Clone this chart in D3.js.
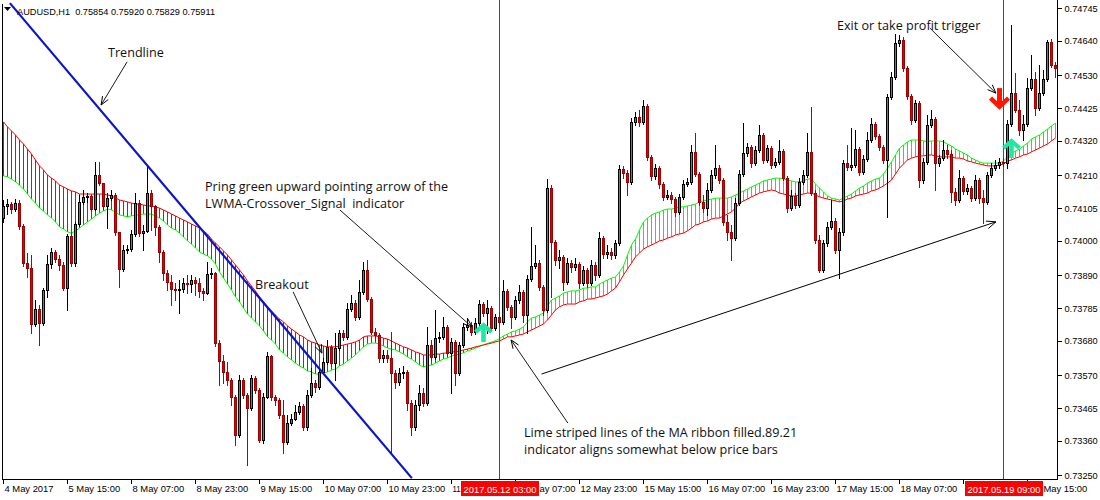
<!DOCTYPE html>
<html><head><meta charset="utf-8">
<script src="https://cdn.jsdelivr.net/npm/d3@7"></script>
<style>
html,body{margin:0;padding:0;background:#fff;}
svg{display:block;}
text{white-space:pre;}
</style></head><body>
<svg id="c" width="1100" height="500"></svg>
<script>
// ---------- DATA (AUDUSD H1, bar 0 = 4 May 2017 23:00) ----------
const firstOpen = 0.74073;
const close = [
0.74112,0.74118,0.74102,0.74121,0.74048,0.73929,0.73913,0.73734,0.73782,0.73737,
0.73843,0.73926,0.73965,0.73942,0.73923,0.73849,0.74016,0.73929,0.74054,0.74125,
0.74141,0.74144,0.74102,0.74211,0.74185,0.74112,0.74137,0.74147,0.74029,0.73910,
0.73971,0.73974,0.74022,0.74121,0.74025,0.74032,0.74153,0.74112,0.74045,0.73965,
0.73897,0.73869,0.73846,0.73843,0.73846,0.73865,0.73862,0.73875,0.73865,0.73840,
0.73833,0.73894,0.73897,0.73673,0.73616,0.73581,0.73555,0.73501,0.73379,0.73555,
0.73507,0.73465,0.73561,0.73523,0.73363,0.73501,0.73632,0.73501,0.73491,0.73443,
0.73357,0.73417,0.73430,0.73453,0.73472,0.73405,0.73507,0.73545,0.73533,0.73581,
0.73613,0.73661,0.73609,0.73657,0.73705,0.73693,0.73782,0.73801,0.73757,0.73837,
0.73907,0.73814,0.73709,0.73699,0.73625,0.73635,0.73625,0.73577,0.73549,0.73577,
0.73581,0.73481,0.73405,0.73475,0.73513,0.73481,0.73667,0.73629,0.73689,0.73693,
0.73725,0.73641,0.73677,0.73577,0.73667,0.73725,0.73731,0.73709,0.73737,0.73798,
0.73769,0.73785,0.73721,0.73757,0.73741,0.73840,0.73789,0.73757,0.73811,0.73837,
0.73763,0.73878,0.73920,0.73929,0.73853,0.73779,0.74169,0.73997,0.73939,0.73949,
0.73869,0.73929,0.73917,0.73926,0.73865,0.73907,0.73865,0.73923,0.73891,0.74009,
0.73958,0.73965,0.73955,0.73993,0.74230,0.74217,0.74189,0.74381,0.74397,0.74381,
0.74432,0.74269,0.74208,0.74233,0.74182,0.74141,0.74147,0.74134,0.74093,0.74141,
0.74182,0.74189,0.74285,0.74214,0.74125,0.74105,0.74163,0.74211,0.74233,0.74195,
0.74061,0.74029,0.74009,0.74121,0.74214,0.74281,0.74301,0.74249,0.74291,0.74339,
0.74259,0.74297,0.74243,0.74253,0.74288,0.74201,0.74105,0.74144,0.74115,0.74189,
0.74211,0.74285,0.74153,0.74003,0.73907,0.73993,0.74045,0.74064,0.73971,0.74029,
0.74249,0.74237,0.74243,0.74294,0.74221,0.74262,0.74323,0.74374,0.74336,0.74301,
0.74259,0.74461,0.74525,0.74633,0.74643,0.74553,0.74464,0.74387,0.74441,0.74195,
0.74253,0.74371,0.74390,0.74249,0.74265,0.74291,0.74278,0.74157,0.74131,0.74201,
0.74160,0.74169,0.74137,0.74195,0.74137,0.74125,0.74211,0.74233,0.74243,0.74253,
0.74249,0.74374,0.74473,0.74419,0.74355,0.74374,0.74489,0.74518,0.74425,0.74473,
0.74518,0.74637,0.74563,0.74553];
const high = [
0.74131,0.74134,0.74125,0.74134,0.74131,0.74054,0.73961,0.73955,0.73811,0.73795,
0.73849,0.73955,0.73977,0.73971,0.73955,0.73933,0.74022,0.74029,0.74061,0.74147,
0.74163,0.74153,0.74147,0.74253,0.74253,0.74185,0.74153,0.74163,0.74153,0.74029,
0.73987,0.73987,0.74035,0.74153,0.74131,0.74051,0.74237,0.74163,0.74115,0.74051,
0.73971,0.73907,0.73891,0.73865,0.73875,0.73881,0.73891,0.73891,0.73885,0.73881,
0.73849,0.73933,0.73913,0.73901,0.73683,0.73635,0.73613,0.73561,0.73507,0.73571,
0.73561,0.73513,0.73571,0.73568,0.73529,0.73513,0.73645,0.73635,0.73507,0.73497,
0.73491,0.73443,0.73446,0.73475,0.73485,0.73478,0.73523,0.73593,0.73555,0.73593,
0.73625,0.73683,0.73667,0.73705,0.73715,0.73715,0.73801,0.73827,0.73811,0.73875,
0.73933,0.73939,0.73821,0.73721,0.73705,0.73651,0.73651,0.73709,0.73587,0.73593,
0.73600,0.73587,0.73491,0.73491,0.73539,0.73529,0.73725,0.73683,0.73779,0.73709,
0.73757,0.73731,0.73689,0.73683,0.73677,0.73737,0.73753,0.73741,0.73753,0.73811,
0.73805,0.73811,0.73792,0.73766,0.73773,0.73875,0.73846,0.73795,0.73824,0.73859,
0.73843,0.73891,0.74045,0.73987,0.73939,0.73859,0.74198,0.74179,0.74003,0.73971,
0.73955,0.73945,0.73939,0.73945,0.73933,0.73920,0.73913,0.73939,0.73933,0.74029,
0.74016,0.73987,0.73977,0.74003,0.74243,0.74240,0.74227,0.74393,0.74413,0.74419,
0.74451,0.74438,0.74275,0.74246,0.74240,0.74189,0.74163,0.74157,0.74141,0.74150,
0.74195,0.74201,0.74307,0.74345,0.74221,0.74147,0.74185,0.74227,0.74307,0.74243,
0.74201,0.74083,0.74051,0.74137,0.74227,0.74377,0.74313,0.74307,0.74304,0.74371,
0.74345,0.74307,0.74304,0.74265,0.74323,0.74294,0.74208,0.74163,0.74153,0.74201,
0.74227,0.74345,0.74429,0.74163,0.74019,0.74003,0.74061,0.74131,0.74073,0.74041,
0.74259,0.74307,0.74361,0.74355,0.74301,0.74275,0.74349,0.74393,0.74381,0.74342,
0.74307,0.74470,0.74541,0.74662,0.74659,0.74653,0.74560,0.74470,0.74451,0.74448,
0.74265,0.74403,0.74419,0.74397,0.74275,0.74323,0.74307,0.74291,0.74169,0.74227,
0.74208,0.74182,0.74176,0.74211,0.74201,0.74163,0.74221,0.74249,0.74259,0.74265,
0.74265,0.74387,0.74691,0.74537,0.74451,0.74403,0.74521,0.74595,0.74541,0.74563,
0.74547,0.74643,0.74646,0.74573];
const low = [
0.74061,0.74086,0.74089,0.74096,0.74038,0.73920,0.73885,0.73705,0.73728,0.73667,
0.73731,0.73821,0.73913,0.73933,0.73907,0.73843,0.73779,0.73920,0.73920,0.74048,
0.74118,0.74125,0.74096,0.74099,0.74179,0.74102,0.74041,0.74131,0.74019,0.73853,
0.73904,0.73961,0.73968,0.74016,0.74016,0.73971,0.74029,0.74035,0.74019,0.73933,
0.73875,0.73843,0.73795,0.73811,0.73769,0.73837,0.73833,0.73837,0.73827,0.73821,
0.73811,0.73830,0.73881,0.73664,0.73539,0.73545,0.73539,0.73475,0.73347,0.73373,
0.73497,0.73283,0.73459,0.73513,0.73357,0.73353,0.73497,0.73491,0.73475,0.73433,
0.73321,0.73350,0.73411,0.73427,0.73446,0.73395,0.73395,0.73501,0.73517,0.73526,
0.73574,0.73606,0.73600,0.73555,0.73651,0.73683,0.73686,0.73776,0.73747,0.73750,
0.73830,0.73808,0.73702,0.73683,0.73613,0.73613,0.73613,0.73321,0.73529,0.73539,
0.73561,0.73459,0.73379,0.73395,0.73459,0.73472,0.73475,0.73619,0.73622,0.73677,
0.73686,0.73632,0.73513,0.73539,0.73571,0.73661,0.73715,0.73699,0.73702,0.73731,
0.73760,0.73705,0.73715,0.73715,0.73728,0.73734,0.73779,0.73721,0.73750,0.73801,
0.73741,0.73705,0.73872,0.73913,0.73843,0.73763,0.73773,0.73821,0.73923,0.73913,
0.73843,0.73862,0.73901,0.73907,0.73849,0.73859,0.73853,0.73859,0.73875,0.73885,
0.73945,0.73945,0.73942,0.73945,0.73987,0.74201,0.74147,0.74182,0.74371,0.74368,
0.74374,0.74259,0.74195,0.74198,0.74169,0.74131,0.74134,0.74121,0.74080,0.74086,
0.74134,0.74176,0.74182,0.74208,0.74115,0.74093,0.74083,0.74157,0.74201,0.74185,
0.74051,0.74003,0.73939,0.74003,0.74115,0.74208,0.74272,0.74237,0.74243,0.74285,
0.74249,0.74253,0.74233,0.74237,0.74246,0.74195,0.74093,0.74099,0.74105,0.74109,
0.74182,0.74205,0.74147,0.73993,0.73901,0.73901,0.73984,0.74038,0.73961,0.73881,
0.74019,0.74227,0.74227,0.74237,0.74211,0.74214,0.74256,0.74317,0.74326,0.74291,
0.74249,0.74077,0.74454,0.74518,0.74624,0.74544,0.74454,0.74374,0.74381,0.74173,
0.74185,0.74246,0.74365,0.74163,0.74240,0.74259,0.74265,0.74125,0.74115,0.74125,
0.74150,0.74150,0.74128,0.74131,0.74121,0.74057,0.74118,0.74205,0.74227,0.74233,
0.74240,0.74233,0.74368,0.74413,0.74339,0.74323,0.74368,0.74483,0.74403,0.74419,
0.74467,0.74512,0.74557,0.74525];
// MA ribbon (89 = slow, red; 21 = fast, lime)
const maSlow = [
0.74381,0.74365,0.74352,0.74339,0.74323,0.74310,0.74294,0.74278,0.74259,0.74240,
0.74227,0.74211,0.74201,0.74192,0.74179,0.74173,0.74166,0.74160,0.74157,0.74150,
0.74150,0.74150,0.74150,0.74150,0.74150,0.74150,0.74147,0.74144,0.74137,0.74131,
0.74128,0.74125,0.74121,0.74118,0.74118,0.74115,0.74112,0.74112,0.74109,0.74105,
0.74099,0.74093,0.74086,0.74080,0.74073,0.74067,0.74061,0.74054,0.74048,0.74041,
0.74032,0.74022,0.74006,0.73993,0.73981,0.73968,0.73955,0.73939,0.73923,0.73907,
0.73891,0.73872,0.73856,0.73840,0.73821,0.73805,0.73789,0.73776,0.73763,0.73750,
0.73741,0.73728,0.73718,0.73709,0.73699,0.73693,0.73683,0.73677,0.73673,0.73667,
0.73664,0.73661,0.73661,0.73661,0.73664,0.73667,0.73670,0.73673,0.73677,0.73683,
0.73693,0.73696,0.73696,0.73696,0.73693,0.73689,0.73686,0.73680,0.73673,0.73667,
0.73661,0.73657,0.73651,0.73645,0.73641,0.73635,0.73635,0.73635,0.73638,0.73638,
0.73641,0.73641,0.73645,0.73645,0.73648,0.73651,0.73654,0.73657,0.73661,0.73664,
0.73667,0.73670,0.73673,0.73677,0.73680,0.73686,0.73693,0.73693,0.73696,0.73699,
0.73702,0.73709,0.73715,0.73721,0.73728,0.73734,0.73747,0.73763,0.73779,0.73789,
0.73795,0.73798,0.73798,0.73798,0.73805,0.73808,0.73814,0.73814,0.73817,0.73821,
0.73824,0.73830,0.73840,0.73849,0.73869,0.73891,0.73910,0.73929,0.73949,0.73961,
0.73974,0.73981,0.73987,0.73993,0.74000,0.74003,0.74009,0.74013,0.74019,0.74022,
0.74025,0.74032,0.74041,0.74051,0.74054,0.74061,0.74064,0.74070,0.74073,0.74073,
0.74080,0.74086,0.74093,0.74105,0.74121,0.74128,0.74134,0.74141,0.74147,0.74153,
0.74157,0.74160,0.74163,0.74160,0.74153,0.74150,0.74147,0.74144,0.74144,0.74147,
0.74150,0.74153,0.74153,0.74147,0.74141,0.74137,0.74134,0.74131,0.74128,0.74125,
0.74128,0.74134,0.74137,0.74144,0.74147,0.74150,0.74153,0.74160,0.74163,0.74169,
0.74176,0.74185,0.74195,0.74214,0.74233,0.74246,0.74259,0.74265,0.74269,0.74272,
0.74272,0.74275,0.74275,0.74272,0.74269,0.74269,0.74269,0.74269,0.74265,0.74265,
0.74262,0.74256,0.74253,0.74249,0.74246,0.74243,0.74240,0.74240,0.74240,0.74243,
0.74246,0.74256,0.74259,0.74265,0.74269,0.74275,0.74278,0.74285,0.74291,0.74297,
0.74304,0.74310,0.74320,0.74329];
const maFast = [
0.74208,0.74205,0.74198,0.74189,0.74179,0.74166,0.74150,0.74134,0.74121,0.74105,
0.74096,0.74083,0.74073,0.74061,0.74045,0.74038,0.74029,0.74025,0.74032,0.74041,
0.74051,0.74061,0.74070,0.74080,0.74089,0.74096,0.74102,0.74099,0.74093,0.74083,
0.74080,0.74077,0.74080,0.74083,0.74083,0.74086,0.74086,0.74086,0.74080,0.74073,
0.74064,0.74051,0.74041,0.74035,0.74025,0.74013,0.74000,0.73990,0.73977,0.73965,
0.73958,0.73952,0.73942,0.73926,0.73901,0.73881,0.73862,0.73843,0.73821,0.73805,
0.73785,0.73766,0.73753,0.73741,0.73728,0.73712,0.73693,0.73683,0.73670,0.73651,
0.73641,0.73629,0.73619,0.73609,0.73600,0.73593,0.73584,0.73581,0.73574,0.73574,
0.73577,0.73581,0.73587,0.73590,0.73600,0.73606,0.73616,0.73625,0.73635,0.73648,
0.73661,0.73670,0.73673,0.73673,0.73670,0.73664,0.73657,0.73654,0.73651,0.73645,
0.73638,0.73629,0.73622,0.73613,0.73603,0.73597,0.73600,0.73603,0.73609,0.73616,
0.73622,0.73625,0.73632,0.73635,0.73638,0.73642,0.73648,0.73652,0.73657,0.73662,
0.73668,0.73672,0.73676,0.73681,0.73687,0.73696,0.73702,0.73709,0.73712,0.73718,
0.73725,0.73741,0.73753,0.73757,0.73763,0.73769,0.73792,0.73811,0.73817,0.73824,
0.73833,0.73837,0.73840,0.73840,0.73843,0.73849,0.73849,0.73853,0.73853,0.73862,
0.73869,0.73875,0.73881,0.73885,0.73901,0.73920,0.73955,0.73987,0.74006,0.74035,
0.74061,0.74073,0.74083,0.74089,0.74093,0.74099,0.74102,0.74102,0.74105,0.74109,
0.74109,0.74112,0.74115,0.74118,0.74125,0.74128,0.74131,0.74134,0.74137,0.74137,
0.74137,0.74137,0.74141,0.74147,0.74153,0.74160,0.74166,0.74173,0.74179,0.74185,
0.74192,0.74195,0.74198,0.74201,0.74201,0.74198,0.74195,0.74192,0.74189,0.74189,
0.74192,0.74198,0.74198,0.74182,0.74169,0.74157,0.74144,0.74137,0.74134,0.74131,
0.74137,0.74144,0.74150,0.74160,0.74169,0.74176,0.74185,0.74192,0.74198,0.74201,
0.74214,0.74233,0.74253,0.74275,0.74297,0.74307,0.74317,0.74323,0.74323,0.74323,
0.74320,0.74317,0.74320,0.74320,0.74320,0.74317,0.74310,0.74304,0.74294,0.74288,
0.74281,0.74275,0.74265,0.74259,0.74253,0.74249,0.74249,0.74249,0.74249,0.74249,
0.74256,0.74269,0.74278,0.74288,0.74294,0.74304,0.74313,0.74326,0.74333,0.74339,
0.74349,0.74358,0.74368,0.74377];

const priceTicks = [0.74745,0.74640,0.74530,0.74425,0.74320,0.74210,0.74105,0.74000,0.73890,0.73785,0.73680,0.73570,0.73465,0.73360,0.73250];
const timeLabels = ["4 May 2017","5 May 15:00","8 May 07:00","8 May 23:00","9 May 15:00","10 May 07:00","10 May 23:00","11 May 15:00","12 May 07:00","12 May 23:00","15 May 15:00","16 May 07:00","16 May 23:00","17 May 15:00","18 May 07:00","18 May 23:00","19 May 15:00"];
const timeLabelBars = [0,16,32,48,64,80,96,112,128,144,160,176,192,208,224,240,256];
const markerLabels = ["2017.05.12 03:00","2017.05.19 09:00"];
const markerBars = [124,250];
const signalTypes = ["up","up","down"];
const signalBars = [120,252,249];
const signalPrices = [0.73734,0.74323,0.74425];
const trendBars = [1.6,102.1];
const trendPrices = [0.74761,0.73241];
const supportBars = [134.5,248.1];
const supportPrices = [0.73574,0.74061];
const headerText = "AUDUSD,H1  0.75854 0.75920 0.75829 0.75911";
const calloutTexts = [
  ["Trendline"],
  ["Pring green upward pointing arrow of the","LWMA-Crossover_Signal  indicator"],
  ["Breakout"],
  ["Lime striped lines of the MA ribbon filled.89.21","indicator aligns somewhat below price bars"],
  ["Exit or take profit trigger"]
];
const calloutFromBars = [30.9,84.1,72.4,141.1,231.6];
const calloutFromPrices = [0.74573,0.74099,0.73837,0.73417,0.74681];
const calloutToBars = [24.4,117.1,79.6,126.9,248.1];
const calloutToPrices = [0.74435,0.73725,0.73641,0.73683,0.74473];

// ---------- DRAWING ----------
const svg = d3.select("#c");
const x = d3.scaleLinear().domain([0, close.length-1]).range([3.5, 3.5+4*(close.length-1)]);
const y = d3.scaleLinear().domain([0.73250, 0.74745]).range([475.3, 8.1]);
const plotR = 1057.5, plotB = 479.5;
const boxW = 78;
const markerBoxes = markerBars.map(b=>[x(b)-38.5, x(b)-38.5+boxW]);

svg.append("defs").append("clipPath").attr("id","plot")
  .append("rect").attr("x",2).attr("y",0).attr("width",plotR-2).attr("height",plotB);

const g = svg.append("g").attr("clip-path","url(#plot)");

// ribbon stripes
g.append("g").attr("shape-rendering","crispEdges").selectAll("line")
  .data(d3.range(close.length)).join("line")
  .attr("x1",i=>x(i)).attr("x2",i=>x(i))
  .attr("y1",i=>y(maSlow[i])).attr("y2",i=>y(maFast[i]))
  .attr("stroke",i=>maFast[i]>maSlow[i]?"#00ff00":"#ff0000").attr("stroke-width",1);
// ribbon lines
const lineGen = arr => d3.line().x((d,i)=>x(i)).y(d=>y(d))(arr);
g.append("path").attr("d",lineGen(maFast)).attr("fill","none").attr("stroke","#00ff00").attr("stroke-width",1);
g.append("path").attr("d",lineGen(maSlow)).attr("fill","none").attr("stroke","#ff0000").attr("stroke-width",1);

// vertical marker lines
g.selectAll("line.mk").data(markerBars).join("line").attr("class","mk")
  .attr("x1",d=>x(d)).attr("x2",d=>x(d)).attr("y1",0).attr("y2",plotB)
  .attr("stroke","#ff0000").attr("stroke-width",1).attr("shape-rendering","crispEdges");

// candles
const candles = d3.range(close.length).map(i=>({i, o: i===0?firstOpen:close[i-1], c: close[i], h: high[i], l: low[i]}));
const cg = g.append("g").attr("shape-rendering","crispEdges");
cg.selectAll("line").data(candles).join("line")
  .attr("x1",d=>x(d.i)).attr("x2",d=>x(d.i))
  .attr("y1",d=>Math.round(y(d.h))).attr("y2",d=>Math.round(y(d.l))+1)
  .attr("stroke",d=>d.c>=d.o?"#000":"#b00000").attr("stroke-width",1);
cg.selectAll("rect").data(candles).join("rect")
  .attr("x",d=>x(d.i)-1).attr("width",2)
  .attr("y",d=>Math.round(y(Math.max(d.o,d.c)))+0.5)
  .attr("height",d=>Math.max(0,Math.round(y(Math.min(d.o,d.c)))-Math.round(y(Math.max(d.o,d.c)))))
  .attr("fill",d=>d.c>=d.o?"#3a9a62":"#e00000")
  .attr("stroke",d=>d.c>=d.o?"#000":"#a00000").attr("stroke-width",1);

// trendline (blue)
g.append("line").attr("x1",x(trendBars[0])).attr("y1",y(trendPrices[0]))
  .attr("x2",x(trendBars[1])).attr("y2",y(trendPrices[1]))
  .attr("stroke","#0a14cc").attr("stroke-width",2.2);

function arrowHead(sel, x1,y1,x2,y2, len, ang){
  const a = Math.atan2(y2-y1,x2-x1);
  const p = t => [x2 - len*Math.cos(a+t), y2 - len*Math.sin(a+t)];
  const A = p(ang), B = p(-ang);
  sel.append("path").attr("d",`M${A[0]},${A[1]}L${x2},${y2}L${B[0]},${B[1]}`)
    .attr("fill","none").attr("stroke","#000").attr("stroke-width",1);
}
// support line with arrow
{
  const x1=x(supportBars[0]), y1=y(supportPrices[0]), x2=x(supportBars[1]), y2=y(supportPrices[1]);
  g.append("line").attr("x1",x1).attr("y1",y1).attr("x2",x2).attr("y2",y2).attr("stroke","#000").attr("stroke-width",1);
  arrowHead(g,x1,y1,x2,y2,10,0.4);
}

// signal arrows
signalTypes.forEach((t,k)=>{
  const cx = x(signalBars[k]), ty = y(signalPrices[k]);
  const ag = g.append("g");
  if(t==="up"){
    const col="#1ee8a2";
    ag.append("rect").attr("x",cx-2.3).attr("y",ty+3).attr("width",4.6).attr("height",15).attr("fill",col);
    ag.append("path").attr("d",`M${cx-8},${ty+8}L${cx},${ty+1}L${cx+8},${ty+8}`)
      .attr("fill","none").attr("stroke",col).attr("stroke-width",4.2).attr("stroke-linejoin","miter");
  } else {
    const col="#ff1500";
    ag.append("rect").attr("x",cx-2.5).attr("y",ty-20).attr("width",5).attr("height",16).attr("fill",col);
    ag.append("path").attr("d",`M${cx-9},${ty-10}L${cx},${ty-1.5}L${cx+9},${ty-10}`)
      .attr("fill","none").attr("stroke",col).attr("stroke-width",4.5).attr("stroke-linejoin","miter");
  }
});

// borders
svg.append("line").attr("x1",2.5).attr("x2",2.5).attr("y1",4).attr("y2",plotB).attr("stroke","#000").attr("shape-rendering","crispEdges");
svg.append("line").attr("x1",plotR).attr("x2",plotR).attr("y1",0).attr("y2",plotB).attr("stroke","#000").attr("shape-rendering","crispEdges");
svg.append("line").attr("x1",2).attr("x2",plotR).attr("y1",plotB).attr("y2",plotB).attr("stroke","#000").attr("shape-rendering","crispEdges");

// right axis
const yAxis = d3.axisRight(y).tickValues(priceTicks).tickFormat(d3.format(".5f")).tickSize(4).tickPadding(3);
const ya = svg.append("g").attr("transform",`translate(${plotR},0)`).call(yAxis);
ya.select(".domain").remove();
ya.selectAll("line").attr("stroke","#000").attr("shape-rendering","crispEdges");
ya.selectAll("text").attr("font-family","'Liberation Sans', Arial, sans-serif").attr("font-size","9.2px").attr("fill","#000");

// bottom axis
const labOff = 1;
const xAxis = d3.axisBottom(x).tickValues(timeLabelBars).tickFormat((d,i)=>timeLabels[i]).tickSize(4).offset(0);
const xa = svg.append("g").attr("transform",`translate(0,${plotB})`).call(xAxis);
xa.select(".domain").remove();
xa.selectAll("line").attr("stroke","#000").attr("shape-rendering","crispEdges");
xa.selectAll("text").attr("text-anchor","start").attr("x",labOff).attr("y",6)
  .attr("font-family","'Liberation Sans', Arial, sans-serif").attr("font-size","9.4px").attr("fill","#000");
// the terminal's red time boxes hide the parts of labels underneath them: keep only the visible part
xa.selectAll(".tick").each(function(d){
  const t = d3.select(this).select("text");
  const node = t.node();
  const str = node.textContent;
  const x0 = x(d) + labOff;
  const w = node.getComputedTextLength();
  const charStart = i => x0 + node.getSubStringLength(0,i);
  const charEnd = i => x0 + node.getSubStringLength(0,i+1);
  for(const [bL,bR] of markerBoxes){
    if(x0 < bR && x0 + w > bL){
      if(x0 < bL){
        // keep characters mostly left of the box
        let m = 0;
        while(m<str.length && (charStart(m)+charEnd(m))/2 < bL) m++;
        const s = str.slice(0,m).trimEnd();
        if(!s.length){ t.remove(); break; }
        const end = x0 + node.getSubStringLength(0,s.length);
        t.text(s);
        if(end > bL - 0.5){
          t.attr("textLength", bL - 0.5 - x0).attr("lengthAdjust","spacingAndGlyphs");
        }
      } else if(x0 + w > bR){
        // keep characters mostly right of the box
        let s = 0;
        while(s<str.length && ((charStart(s)+charEnd(s))/2 < bR || str[s]===" ")) s++;
        const start = charStart(s);
        t.text(str.slice(s)).attr("x", Math.max(start, bR + 0.5) - x(d));
      } else {
        t.remove();
      }
      break;
    }
  }
});

// marker time labels
markerBars.forEach((b,k)=>{
  const cx = x(b);
  svg.append("rect").attr("x",markerBoxes[k][0]).attr("y",481).attr("width",boxW).attr("height",15).attr("fill","#ff0000");
  svg.append("text").attr("x",cx+0.5).attr("y",492.5).attr("text-anchor","middle")
    .attr("font-family","'Liberation Sans', Arial, sans-serif").attr("font-size","9.4px").attr("fill","#fff").text(markerLabels[k]);
});

// header
svg.append("path").attr("d","M4,7L11,7L7.5,11Z").attr("fill","#000");
svg.append("text").attr("x",17).attr("y",14.5).attr("font-family","'Liberation Sans', Arial, sans-serif")
  .attr("font-size","9.2px").attr("fill","#000").text(headerText);

// callouts
const textPos = [[108,57],[205,191],[255,289],[524,437],[837,30]];
const ag2 = svg.append("g");
calloutTexts.forEach((lines,k)=>{
  const x1=x(calloutFromBars[k]), y1=y(calloutFromPrices[k]), x2=x(calloutToBars[k]), y2=y(calloutToPrices[k]);
  ag2.append("line").attr("x1",x1).attr("y1",y1).attr("x2",x2).attr("y2",y2).attr("stroke","#000").attr("stroke-width",0.9);
  arrowHead(ag2,x1,y1,x2,y2,9,0.38);
  lines.forEach((s,j)=>{
    ag2.append("text").attr("x",textPos[k][0]).attr("y",textPos[k][1]+j*16.5)
      .attr("font-family","'Open Sans', 'Noto Sans', sans-serif").attr("font-size","12.6px").attr("fill","#111").text(s);
  });
});
</script>
</body></html>
